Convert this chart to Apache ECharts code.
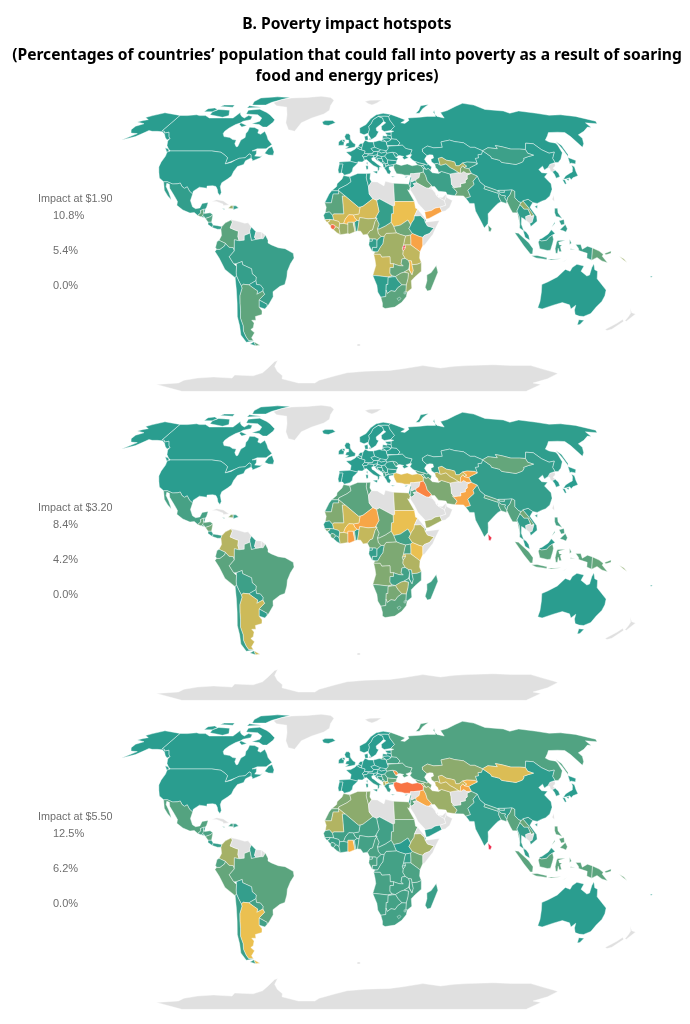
<!DOCTYPE html>
<html>
<head>
<meta charset="utf-8">
<title>Poverty impact hotspots</title>
<script src="https://cdn.jsdelivr.net/npm/echarts@6/dist/echarts.min.js"></script>
<style>
  html, body { margin: 0; padding: 0; background: #fff; }
  #main { width: 690px; height: 1024px; }
</style>
</head>
<body>
<div id="main"></div>
<script type="text/javascript">
// table rows are grouped by tens so the three value arrays line up with the names
var countries = [
  'Canada','United States','Mexico','Guatemala','Belize','Honduras','El Salvador','Nicaragua','Costa Rica','Panama',
  'Cuba','Haiti','Dominican Rep.','Jamaica','Colombia','Venezuela','Guyana','Suriname','French Guiana','Ecuador',
  'Peru','Brazil','Bolivia','Paraguay','Uruguay','Argentina','Chile','Greenland','Iceland','United Kingdom',
  'Ireland','France','Spain','Portugal','Belgium','Netherlands','Germany','Switzerland','Austria','Italy',
  'Denmark','Norway','Sweden','Finland','Poland','Czechia','Slovakia','Hungary','Slovenia','Croatia',
  'Bosnia','Serbia','Montenegro','Albania','N. Macedonia','Greece','Bulgaria','Romania','Moldova','Ukraine',
  'Belarus','Lithuania','Latvia','Estonia','Russia','Georgia','Armenia','Azerbaijan','Turkey','Cyprus',
  'Syria','Lebanon','Israel','Jordan','Iraq','Iran','Saudi Arabia','Yemen','Oman','UAE',
  'Qatar','Kuwait','Pakistan','Afghanistan','India','Nepal','Bhutan','Bangladesh','Sri Lanka','Myanmar',
  'Thailand','Laos','Cambodia','Vietnam','Malaysia','Indonesia','Philippines','Taiwan','Japan','North Korea',
  'South Korea','China','Mongolia','Kazakhstan','Uzbekistan','Turkmenistan','Tajikistan','Kyrgyzstan','Papua New Guinea','Solomon Is.',
  'Fiji','Australia','New Zealand','Antarctica','Morocco','W. Sahara','Algeria','Tunisia','Libya','Egypt',
  'Sudan','South Sudan','Eritrea','Ethiopia','Djibouti','Somalia','Kenya','Uganda','Tanzania','Rwanda',
  'Burundi','DR Congo','Congo','Gabon','Eq. Guinea','Cameroon','CAR','Chad','Niger','Mali',
  'Mauritania','Senegal','Guinea-Bissau','Guinea','Sierra Leone','Liberia','Ivory Coast','Burkina Faso','Ghana','Togo',
  'Benin','Nigeria','Angola','Zambia','Malawi','Mozambique','Zimbabwe','Namibia','Botswana','South Africa',
  'Lesotho','Eswatini','Madagascar'
];
var impact190 = [
  0,0,.2,1.5,.3,.7,.5,1,.2,.2,
  null,3,.2,.3,1.3,null,.1,null,null,.9,
  .3,.4,.3,.1,.1,1.4,.1,null,0,0,
  0,0,0,0,0,0,0,0,0,0,
  0,0,0,0,0,0,0,0,0,0,
  0,0,0,.1,.1,0,0,0,.1,0,
  0,0,0,0,0,.5,.3,.1,.9,0,
  null,0,0,.2,1.7,.5,null,7,null,null,
  null,null,1.7,null,.1,.5,.3,.6,1,1.2,
  .2,2.8,null,.1,0,.5,.2,null,0,null,
  0,0,.5,0,3.5,.5,2.2,.4,1.5,3,
  0,0,null,null,.1,0,0,.1,null,1,
  5.2,1.8,null,.2,.5,null,7,3.5,4,10.8,
  9.5,3.2,.2,.2,.2,2.8,3,.3,4.6,4.4,
  1.3,.3,4,4,9.2,3.5,3,5.8,3,3.5,
  .3,3.3,4.3,1.5,5.8,3,2,.1,.2,1.3,
  1,1,1.4
];
var impact320 = [
  0,0,.6,1.2,.4,1,.6,1.5,.2,.3,
  null,2,.2,.3,2.9,null,.2,null,null,.8,
  1,.9,.4,.2,.1,3.4,.3,null,0,0,
  0,0,0,0,0,0,0,0,0,0,
  0,0,0,0,0,0,0,0,0,0,
  .1,.1,.1,.4,.3,0,.1,.1,.5,.1,
  0,0,0,0,.1,1,1.2,.6,3.8,0,
  null,.2,0,.8,6.5,1.7,null,2.5,null,null,
  null,null,5.3,null,.3,1,.6,.8,8.2,.9,
  .2,1.5,null,.1,.05,1,.6,null,0,null,
  0,.2,1.2,.2,3.3,3,5.2,5.2,1.2,2,
  0,0,null,null,1,.5,1,1,null,2.6,
  4,.5,null,3,.8,null,4,.7,2.8,3.8,
  2,1.7,.3,.2,.2,1.5,1.5,1.3,5.3,3.4,
  1.8,.1,1.6,.2,1,.2,3,4.5,5.6,2.8,
  .2,3.2,1.8,.5,.2,.6,2.6,1,1.6,1,
  .8,.8,.5
];
var impact550 = [
  0,0,1.3,1,.3,1,.6,1.5,.2,.3,
  null,.8,.3,.3,3.8,null,.4,null,null,1.2,
  1.8,1.5,.3,.8,.7,6,.5,null,0,0,
  0,0,0,0,0,0,0,0,0,.1,
  0,0,0,0,.1,0,.1,.1,0,.1,
  .5,1,.5,4,5.5,.3,2,1,9,1.3,
  .8,.1,.1,.1,1.2,2,4,2.5,10.2,0,
  null,.5,0,1.5,7.8,3.5,null,.1,null,null,
  null,null,1.5,null,.2,.8,.6,1,12.5,1.5,
  .3,2,null,.3,.2,1.5,1.5,null,0,null,
  .1,.1,5.5,3,5,4.6,7.8,7.2,1.5,2,
  0,0,null,null,2.6,1.8,3,2.8,null,2.6,
  2,0,null,3.8,.8,null,2,.4,1,.6,
  .6,.8,.7,1,.8,1,.8,.7,.8,.7,
  4.2,.7,.5,.5,.7,.7,.5,.7,7.2,.7,
  .5,.8,.9,.8,.8,.9,.8,.8,.8,.8,
  .8,.8,.5
];
var legendTitles = ['Impact at $1.90', 'Impact at $3.20', 'Impact at $5.50'];
var legendMax = [10.8, 8.4, 12.5];
var legendTicks = [['10.8%','5.4%','0.0%'], ['8.4%','4.2%','0.0%'], ['12.5%','6.2%','0.0%']];
var scaleColors = ['#2a9d8f', '#90ac6c', '#f3c24e', '#fb8d40', '#ee2f50'];

// country outlines, lon,lat pairs (no world map ships with echarts any more)
var shapes = {
  'Canada': [[-141,69.6,-135,69.5,-128,70,-125,69.5,-120,69.5,-115,68,-108,68,-102,68,-96,68,-94,71.5,-92,70,-90,69,-87,68,-85,69.5,-81.5,69,-81,67,-86,66,-87,65,-90,64,-93,62,-94.5,60,-94.5,58.7,-92.5,57,-88,56.5,-85,55.3,-82.3,55,-82,53,-80,51.3,-79,51.5,-79,53,-79,55,-77,56.5,-78,58.7,-77.5,60,-78,62.4,-74,62.2,-70,61,-69.5,59,-67,58.3,-65,60,-62,57.5,-60,55.3,-56,52.5,-59,50.2,-65,50.2,-68,49,-65,49.2,-64.5,47.5,-65,46.2,-61,46,-60,46.7,-61,45.3,-65.5,43.6,-66,44.5,-67,45.2,-67.8,47,-69.2,47.4,-71,45.3,-74.7,45,-76.5,44.2,-79,43.3,-79,42.8,-82.5,42,-82.5,45.3,-84.5,46.5,-88.5,48.3,-95,49,-123,49,-125,50,-128,52,-130,54.5,-130,55.9,-132,57,-135,59.5,-137.5,59,-139,60,-141,60.3],
    [-80,73.7,-72,71.5,-68,70,-62,67,-62,65.5,-65,62.5,-68,62.5,-72,64,-78,64.5,-73,66,-73,68,-78,70,-88,70.5,-89,73],
    [-117,70,-105,68.5,-101,69.5,-105,73,-115,73.5,-118,72],
    [-90,76.5,-78,76.5,-75,78.5,-65,81.5,-62,82.5,-75,83,-90,82,-92,79],
    [-125,72,-118,72,-116,73.5,-120,74.5,-125,74],
    [-92,76,-80,75,-80,74.5,-92,74.5],
    [-117,75.5,-105,75,-106,76.5,-115,76.5],
    [-59,47.7,-56,46.8,-53,46.7,-53,48.5,-55.5,51.5,-57.5,50.5],
    [-128,50.7,-125,48.5,-123.5,48.5,-125,50],
    [-87,65,-81,63.5,-84,62.5,-87,64]],
  'United States': [[-123,49,-95,49,-88.5,48.3,-84.5,46.5,-82.5,45.3,-82.5,42,-79,42.8,-79,43.3,-76.5,44.2,-74.7,45,-71,45.3,-69.2,47.4,-67.8,47,-67,45.2,-70,43.7,-70.5,41.7,-74,40.6,-75.5,38,-76,35.5,-78,33.9,-81,32,-81.3,30,-80,26.8,-80.5,25.2,-82,26.5,-82.8,28.5,-84,30,-86,30.4,-89.5,30.2,-89.3,29.1,-94,29.6,-97.2,27.5,-97.2,26,-99.5,27.5,-101.5,29.8,-103,29,-104.8,30,-106.5,31.8,-108.2,31.4,-111,31.3,-114.8,32.5,-117.1,32.5,-120.6,34.5,-122.5,37.5,-124.2,40.4,-124.5,43,-124,46.2,-124.7,48.4],
    [-141,69.6,-148,70.4,-156.5,71.3,-163,69.5,-166.5,68.3,-162,67,-165,66.5,-168,65.6,-161,64.5,-165,63,-165,61,-162,59,-157,58.7,-163,55,-156,57,-153,59,-151,60.5,-148,60,-144,60,-140,59.7,-137,58.5,-134,56.5,-131,55,-130,55.9,-132,57,-135,59.5,-137.5,59,-139,60,-141,60.3]],
  'Mexico': [[-117.1,32.5,-114.8,32.5,-111,31.3,-108.2,31.4,-106.5,31.8,-104.8,30,-103,29,-101.5,29.8,-99.5,27.5,-97.2,26,-97.8,22.5,-96,19.2,-94,18.2,-91.5,18.6,-90.5,21,-87,21.5,-87.5,19,-88.2,17.9,-89.1,17.9,-91,17.2,-90.5,16,-92.2,14.6,-94.5,16.2,-97,15.9,-101.5,17.5,-105.5,20,-105.5,22,-108,25,-109.5,26.5,-112,29,-113,31.2,-114.8,31.7,-114.5,30,-112,27,-110,24,-109.5,23,-112,25,-115,28]],
  'Guatemala': [[-92.2,14.6,-90.5,16,-91,17.2,-89.1,17.9,-88.9,15.9,-88.2,15.7,-89.3,14.5,-90,13.8]],
  'Belize': [[-89.1,17.9,-88.2,17.9,-88.2,16.2,-88.9,15.9]],
  'Honduras': [[-88.9,15.9,-88.2,15.7,-85,16,-83.2,15,-84.7,13.9,-87.5,13,-89.3,14.5]],
  'El Salvador': [[-90,13.8,-89.3,14.5,-87.7,13.5,-88,13.2]],
  'Nicaragua': [[-87.5,13,-84.7,13.9,-83.2,15,-83.7,11,-85.7,11]],
  'Costa Rica': [[-85.7,11,-83.7,11,-82.6,9.5,-83,8.2,-85.7,9.8]],
  'Panama': [[-83,8.2,-82.6,9.5,-80,9.2,-77.4,8.7,-77.9,7.3,-80,7.3]],
  'Cuba': [[-85,22,-82,23,-78,22.3,-74.2,20.2,-77.7,19.9,-78,20.7,-82,22]],
  'Haiti': [[-74.5,18.4,-73,19.9,-71.7,19.7,-71.7,18.2]],
  'Dominican Rep.': [[-71.7,19.7,-70,19.7,-68.4,18.6,-71.4,17.7,-71.7,18.2]],
  'Jamaica': [[-78.3,18.3,-76.3,18,-77,17.8]],
  'Colombia': [[-77.4,8.7,-75.5,10.7,-72,12.3,-71.4,11,-72.5,8,-70,7,-67.5,6.2,-67.8,3.5,-67,1.2,-69.8,1.7,-69.9,-4.2,-70.5,-2.5,-73,-2.3,-75,-0.2,-78.8,1.4,-77.4,4,-77.9,7.3]],
  'Venezuela': [[-71.4,11,-72,12.3,-68,11.5,-64,10.5,-62,10.7,-60,8.5,-60.8,6.8,-60.7,5.2,-64,4,-64,1.5,-67,1.2,-67.8,3.5,-67.5,6.2,-70,7,-72.5,8]],
  'Guyana': [[-60,8.5,-57.2,6,-58,3,-57,1.9,-59.8,1.3,-60.7,5.2,-60.8,6.8]],
  'Suriname': [[-57.2,6,-54,5.9,-54,2.3,-57,1.9,-58,3]],
  'French Guiana': [[-54,5.9,-51.6,4.2,-52.9,2.2,-54,2.3]],
  'Ecuador': [[-80.9,-2.2,-80,0.8,-78.8,1.4,-75,-0.2,-75.5,-1.5,-78.3,-3.4,-80.3,-3.4]],
  'Peru': [[-81.3,-4.5,-80.3,-3.4,-78.3,-3.4,-75.5,-1.5,-75,-0.2,-73,-2.3,-70.5,-2.5,-69.9,-4.2,-73,-7.3,-70.6,-11,-69,-12.5,-69.4,-15.5,-69.5,-17.5,-70.4,-18.4,-76,-14,-79,-8]],
  'Brazil': [[-51.6,4.2,-50,1.5,-50,0,-48,-1,-44,-2.5,-40,-3,-35.2,-5.5,-34.8,-8,-37,-11,-39,-15,-39.5,-18,-41,-22,-44,-23,-48.5,-25.8,-48.7,-28.5,-52,-32.5,-53.4,-33.7,-53.2,-32.5,-57.6,-30.2,-53.8,-27.2,-54.6,-25.5,-54.3,-24,-55.7,-22.3,-58,-22,-58.2,-20,-57.8,-18,-60,-16.3,-60.2,-13.7,-65.3,-11.5,-65.5,-9.8,-69,-11,-70.6,-11,-73,-7.3,-69.9,-4.2,-69.8,1.7,-67,1.2,-64,1.5,-64,4,-60.7,5.2,-59.8,1.3,-57,1.9,-54,2.3,-52.9,2.2]],
  'Bolivia': [[-69,-11,-65.5,-9.8,-65.3,-11.5,-60.2,-13.7,-60,-16.3,-57.8,-18,-58.2,-20,-62.6,-22.2,-66,-21.9,-67.2,-22.8,-68.5,-20,-69.5,-17.5,-69.4,-15.5,-69,-12.5]],
  'Paraguay': [[-58.2,-20,-58,-22,-55.7,-22.3,-54.3,-24,-54.6,-25.5,-58.5,-27.2,-57.7,-25.5,-60,-24,-62.6,-22.2]],
  'Uruguay': [[-57.6,-30.2,-53.2,-32.5,-53.4,-33.7,-55,-35,-58.4,-34]],
  'Argentina': [[-66,-21.9,-62.6,-22.2,-60,-24,-57.7,-25.5,-58.5,-27.2,-54.6,-25.5,-53.8,-27.2,-57.6,-30.2,-58.4,-34,-57,-36,-57.6,-38,-62,-39,-62.3,-41,-65,-41,-64,-42.5,-65.5,-45,-67.5,-46,-65.8,-47.8,-69,-50.5,-68.5,-52.3,-71.9,-52,-72.5,-50,-72.8,-47,-71.7,-44,-71.8,-40,-70.5,-36,-69.8,-32,-69,-28,-67,-24,-67.2,-22.8],
    [-68.6,-52.7,-65.3,-54.7,-68.6,-54.9]],
  'Chile': [[-70.4,-18.4,-69.5,-17.5,-68.5,-20,-67.2,-22.8,-67,-24,-69,-28,-69.8,-32,-70.5,-36,-71.8,-40,-71.7,-44,-72.8,-47,-72.5,-50,-71.9,-52,-68.5,-52.3,-74,-53,-75.5,-49,-74,-44,-73.5,-39,-71.5,-32,-70.5,-25],
    [-68.6,-52.7,-68.6,-54.9,-72,-54]],
  'Greenland': [[-73,78.2,-68,80.5,-60,82,-45,82.5,-32,83.6,-22,82.5,-18,80,-20,76,-20,73,-24,70.5,-33,68,-40,65,-43,60,-48,61,-52,65,-54,70,-58,75,-68,76]],
  'Iceland': [[-24,65.5,-22,66.4,-16,66.5,-13.6,65,-18.8,63.4,-22.5,63.9]],
  'United Kingdom': [[-5.5,50,-1,50.7,1.4,51.2,1.7,52.7,0,53.5,-1.5,55,-2,56,-2,57.7,-3,58.6,-5,58.6,-6,57,-5,55.2,-3,54.9,-3,53.5,-4.5,53.3,-5.2,51.8,-3,51.4],
    [-7.4,55.2,-6,55.2,-5.5,54.3,-6.2,54,-7.5,54.3]],
  'Ireland': [[-10,52,-6.4,52.2,-6.2,54,-7.5,54.3,-7.4,55.2,-8.5,55,-10,54]],
  'France': [[-1.8,43.4,-1.2,46,-4.7,48.4,-1.5,48.7,1.5,50,2.5,51,4.2,50,5.8,49.6,8.2,49,7.6,47.6,6,46.3,6.9,45.8,7.5,44,6,43,3.2,43.2,3.1,42.4],
    [8.6,42.5,9.5,43,9.4,41.4]],
  'Spain': [[-9,43,-1.8,43.4,3.1,42.4,0,40,-0.5,38,-2,36.8,-5.5,36,-6.5,37.1,-7.4,37.2,-7,39.7,-6.5,41.9,-8.8,41.9]],
  'Portugal': [[-8.8,41.9,-6.5,41.9,-7,39.7,-7.4,37.2,-9,37,-9.5,38.8]],
  'Belgium': [[2.5,51,4.2,51.4,6,50.7,5.8,49.6,4.2,50]],
  'Netherlands': [[3.5,51.4,4.8,53,7,53.3,6,50.7,4.2,51.4]],
  'Germany': [[6,50.7,7,53.3,8.5,54.9,11,54,14.2,53.9,14.8,51,12.2,50.3,13.8,48.7,13,47.5,9.6,47.5,7.6,47.6,8.2,49,5.8,49.6]],
  'Switzerland': [[6,46.3,7.6,47.6,9.6,47.5,10.4,46.8,9,46,6.9,45.8]],
  'Austria': [[9.6,47.5,13,47.5,13.8,48.7,17,48.8,16.2,46.9,13.7,46.5,10.4,46.8]],
  'Italy': [[7.5,44,6.9,45.8,9,46,10.4,46.8,13.7,46.5,13.6,45.5,12.3,45.2,12.4,44,13.7,43.3,16,41.7,18.5,40.2,17,40.4,16.6,38.9,15.7,38,15.8,40,13,41.2,10.5,43,8.8,44.4],
    [12.5,38,15.6,38.2,15.1,36.7],[8.2,41,9.7,41,9.6,39.1,8.5,39]],
  'Denmark': [[8.2,57,10.6,57.7,10.7,55,8.6,54.9],[11,55.7,12.6,56,12.3,54.9]],
  'Norway': [[5,59,5,62,10,64,14,67.5,19,70,25,71,31,70.2,28.9,69,25.7,69.1,20.5,69,16,67,14,64.5,12,63,12.2,61,11.2,59,8,58]],
  'Svalbard': [[11,79,16,80,27,80.2,22,78,17,76.6,14,77.5]],
  'Sweden': [[11.2,59,12.2,61,12,63,14,64.5,16,67,20.5,69,23.7,68,24,66,21,64,17.4,62,17.4,60.5,18.8,59.7,16.5,57,14.5,56,13,55.4,11.2,58]],
  'Finland': [[20.5,69,25.7,69.1,28.9,69,29,66.8,31.5,62.9,27.8,60.5,23,59.9,21.3,61,21.5,63,25.4,65,24,66,23.7,68]],
  'Poland': [[14.2,53.9,18.5,54.8,23,54.4,23.5,52,24,50.5,22.6,49.1,19,49.4,18.8,49.6,14.8,51]],
  'Czechia': [[12.2,50.3,14.8,51,18.8,49.6,17,48.8,13.8,48.7]],
  'Slovakia': [[17,48.8,18.8,49.6,19,49.4,22.6,49.1,22,48.4,18.8,47.8]],
  'Hungary': [[16.2,46.9,17,48.8,18.8,47.8,22,48.4,22.9,47.9,21,46.2,18.8,45.9,16.5,46.5]],
  'Slovenia': [[13.7,46.5,16.2,46.9,16.5,46.5,15.2,45.4,13.6,45.5]],
  'Croatia': [[13.6,45.5,15.2,45.4,16.5,46.5,18.8,45.9,19,44.9,15.8,45,16.2,44,18.5,42.5,15.5,44,14.5,45.1]],
  'Bosnia': [[15.8,45,19,44.9,19.5,43.5,18.5,42.5,16.2,44]],
  'Serbia': [[18.8,45.9,21,46.2,22.5,44.2,22.4,42.3,20.7,42.1,20.1,42.6,19.5,43.5,19,44.9]],
  'Montenegro': [[18.5,42.5,19.5,43.5,20.1,42.6,19.3,41.9]],
  'Albania': [[19.3,41.9,20.1,42.6,20.7,42.1,21,40.6,20,39.7,19.4,40.5]],
  'N. Macedonia': [[20.7,42.1,22.4,42.3,23,41.3,21,40.9]],
  'Greece': [[20,39.7,21,40.6,23,41.3,26.3,41.7,26,40.8,23,40.3,23,39,24,38,23,36.5,21.7,36.9,21,38.4],[23.6,35.5,26.3,35.2,24.7,34.9]],
  'Bulgaria': [[22.4,42.3,22.5,44.2,28.5,43.7,27.8,42,26.3,41.7,23,41.3]],
  'Romania': [[21,46.2,22.9,47.9,26.6,48.3,28.2,45.5,29.6,45,28.5,43.7,22.5,44.2]],
  'Moldova': [[26.6,48.3,29,47.9,30,46.4,28.2,45.5]],
  'Ukraine': [[22,48.4,22.6,49.1,24,50.5,24,51.6,31,52,34,52.3,36,50.4,40,49.6,38.2,47.2,35,46.3,36.5,45.3,33.5,44.4,32.5,45.4,33.5,46,31,46.5,30,46.4,29,47.9,26.6,48.3,22.9,47.9]],
  'Belarus': [[23.5,52,24,51.6,31,52,32.7,53.4,30.8,55.5,27.5,55.8,26,54.8,23.4,54]],
  'Lithuania': [[21,56,25,56.3,26.6,55.7,26,54.8,23.4,54,21,55.3]],
  'Latvia': [[21,56,21.5,57.5,24.4,57.2,24.5,58,27.5,57.5,27.5,55.8,26.6,55.7,25,56.3]],
  'Estonia': [[23.5,59.2,28,59.5,27.5,57.5,24.5,58]],
  'Russia': [[27.8,60.5,30,60,28,59.5,27.5,57.5,27.5,55.8,30.8,55.5,32.7,53.4,31,52,34,52.3,36,50.4,40,49.6,38.2,47.2,39,47,37.5,45.4,39,44,40,43.4,43,42.5,46.5,41.8,47.5,41.3,48.5,41.8,47.5,43,46.8,44.5,49,46.5,46.8,48.5,47,50,51,51.7,55,50.7,61,51,61.5,54,68,55,71,54.2,77,53.5,80,51,83,51,87.3,49.1,92,50.8,98,50.2,98,52,102,51.3,107,50,113,50,116.7,49.8,120,53.3,125,53,127.5,49.7,131,47.8,135,48.4,131,45,131,42.8,133,42.8,136,44.5,140,48,141,52,141,53.3,137,54,135.5,55,140,57.5,143,59.3,150,59.5,155,59.3,156,57,156.7,51,160,53,163,56,163,58,170,60,177,62.5,179.5,62.3,180,65,188,64.5,190,66,180,69,170,70,160,69.7,152,71,140,72.5,130,71,127,72.5,113,73.5,108,76.5,100,77.8,90,75.5,80,72.8,73,71.5,73,68,68,69,67,71.5,69,73,66.8,69,60,69,54,68.5,44,68,44,66.5,40,64.7,37,65,40,66.2,41,67,35,69,31,70.2,28.9,69,29,66.8,31.5,62.9],
    [19.8,54.4,22.8,54.4,21,55.3],[52,71,56,73,60,76,68,77,60,74,55,71],[142,54.2,143.5,52,143,47,142,46,142,50]],
  'Georgia': [[40,43.4,43,42.5,46.5,41.8,45,41.2,43.5,41,41.5,41.5]],
  'Armenia': [[43.5,41,45,41.2,46.5,39,44.8,39.7]],
  'Azerbaijan': [[46.5,41.8,47.5,41.3,48.5,41.8,50.3,40.3,49,38.4,48,39.5,46.5,39,45,41.2]],
  'Turkey': [[26,40,26.3,41.7,28,42,31,41.2,35,42,38,41,41.5,41.5,43.5,41,44.8,39.7,44.5,37.7,42.3,37.2,38,36.8,36.2,36.8,36,36,32.5,36,30.5,36.5,27.5,36.8,26.5,38.5]],
  'Cyprus': [[32.3,35,34.5,35.6,33,34.6]],
  'Syria': [[36,36,36.2,36.8,38,36.8,42.3,37.2,41.2,34.7,38.8,33.4,36.5,32.4,35.8,33.3,36.5,34.6,35.9,35]],
  'Lebanon': [[35.1,33.1,35.8,33.3,36.5,34.6,35.9,35]],
  'Israel': [[34.3,31.3,35.1,33.1,35.8,33.3,35.5,31,34.9,29.5]],
  'Jordan': [[34.9,29.5,35.5,31,35.6,32.7,36.5,32.4,38.8,33.4,39.2,32,37,31.5,38,30.5,36,29.2]],
  'Iraq': [[38.8,33.4,41.2,34.7,42.3,37.2,44.5,37.7,45.5,35.8,46,33,47.8,31,48.5,30,47.7,30,46.5,29,44.7,29.2,39.2,32]],
  'Iran': [[44.8,39.7,46.5,39,48,39.5,49,38.4,50,37.3,54,36.9,54,37.4,56,38,61,36.6,61,34,60.6,31,62,29.5,60.9,29.8,63.3,27,61.7,25.1,57,25.7,56.5,27,52,27.5,50,30,48.5,30,47.8,31,46,33,45.5,35.8,44.5,37.7]],
  'Saudi Arabia': [[34.9,29.5,36,29.2,38,30.5,37,31.5,39.2,32,44.7,29.2,46.5,29,48.4,28.5,50,26.5,50.2,25.5,51.5,24.3,55,22.5,55.6,20,52,19,49,18.5,46.8,17.2,43.2,16.7,42.7,16.5,39,21,37,25,35,28]],
  'Yemen': [[42.7,16.5,43.2,16.7,46.8,17.2,49,18.5,52,19,53,16.7,45,13,43.4,12.7]],
  'Oman': [[52,19,55.6,20,55,22.5,56,24,56.4,26.2,56.8,24,59.8,22.5,57.8,19,55,17,53,16.7]],
  'UAE': [[51.5,24.3,55,22.5,56,24,56.4,26,54,24.2]],
  'Qatar': [[50.8,24.7,51.6,25,51.2,26.1,50.8,25.6]],
  'Kuwait': [[46.5,29,47.7,30,48.4,28.5]],
  'Pakistan': [[60.9,29.8,62,29.5,66,29.8,66.3,31.5,69.3,31.9,69.5,33.2,71,34,71.5,36,74.5,37,77.8,35.5,74.3,32.8,74.5,31,70,28,71,24.6,68,23.7,66.8,25,61.7,25.1,63.3,27]],
  'Afghanistan': [[61,34,61,36.6,64.5,37.2,65.5,37.3,68,37,70,38,71.5,37,74.5,37,71.5,36,71,34,69.5,33.2,69.3,31.9,66.3,31.5,66,29.8,62,29.5,60.6,31]],
  'India': [[74.3,32.8,77.8,35.5,78.5,32.5,81,30.2,80,28.8,88,26.4,88.2,27.8,89,27,92,26.9,92,28,97,28.3,95,25.5,93.3,24,92.5,22,91.5,24,92.2,25,89.8,25.3,88.5,26.3,88,24.5,89,21.9,87,21,85,19.5,80.3,15.5,80.2,13,79.8,10.3,77.5,8,76,11,73,17,72.7,21,70,21,69,22.4,68,23.7,71,24.6,70,28,74.5,31]],
  'Nepal': [[80,28.8,81,30.2,88.2,27.8,88,26.4]],
  'Bhutan': [[89,27,88.9,28,92,28,92,26.9]],
  'Bangladesh': [[88,24.5,88.5,26.3,89.8,25.3,92.2,25,91.5,24,92.5,22,92,21,89,21.9]],
  'Sri Lanka': [[79.8,9.6,81.9,7.5,81,6,80,6.2]],
  'Myanmar': [[92.5,22,93.3,24,95,25.5,97,28.3,98.5,27.5,97.7,24,99.5,22,101,21.5,100,20.3,97.7,17,98.7,14,98.6,10,97.8,16,95,16,94,18]],
  'Thailand': [[100,20.3,101,19.5,102,18,104.5,18,105.5,15,102.5,14,102.5,12,101,13,100,13.5,99.5,10,100.5,7,102,6,100.3,6.6,98.3,8,98.6,10,98.7,14,97.7,17]],
  'Laos': [[101,21.5,102.2,22.4,104.8,19,107.5,15,105.8,14,105.5,15,104.5,18,102,18,101,19.5,100,20.3]],
  'Cambodia': [[102.5,14,105.5,15,105.8,14,107.5,14.5,106,11,104.5,10.4,102.5,12]],
  'Vietnam': [[102.2,22.4,105.5,23.2,108,21.5,105.8,19,109,14,109,11.5,106.7,10,105,8.7,104.5,10.4,106,11,107.5,14.5,107.5,15,104.8,19]],
  'Malaysia': [[100.3,6.6,102,6,103.5,4,104,1.4,101.3,3],[109.7,2,111.3,2.5,115,4.8,117,7,119,5,117.5,4.2,115.5,3,114,1.5,111,1,109.7,1.5]],
  'Indonesia': [[95.3,5.5,97.5,5.2,103.5,0,106,-3,105.8,-5.8,104.5,-5.8,100.5,-1.5],
    [105.3,-6.8,108.5,-6.6,114.5,-7.8,114.3,-8.7,108,-7.9],
    [109,0.5,109.7,1.5,111,1,114,1.5,115.5,3,117.5,4.2,118,2,117.5,0,116.3,-3.8,114.5,-4,110,-3],
    [119.8,0.5,120.5,1.3,125,1.5,121,0.4,121.5,-1,123,-1,122,-2,122.8,-4.5,121.5,-4.7,120.8,-2.8,120.5,-5.5,119.5,-5.5,119,-3],
    [131,-0.8,134,-0.8,135,-3.3,138,-1.7,141,-2.6,141,-9.1,138,-8,138,-5.5,133,-4,132.7,-2.8],
    [123.5,-10.3,127,-8.4,125,-9.5],[115,-8.5,119,-8.5,123,-8.4,123,-8.8,117,-9],[127.5,2,128.5,0,127.5,-0.8],[128,-3,130.8,-3.3,128,-3.5]],
  'Philippines': [[120.5,18.5,122.2,18.4,122,16,124,13,122,13.8,120.5,14,120,16],[122,7,125.5,9.8,126.5,7.5,125.5,5.8,124,6.5],[122,11.8,125,12.5,125,10,123,9.5],[117.3,8.5,119.5,11.3,119.3,10.3]],
  'Taiwan': [[121.5,25.3,121,22,120,23.2]],
  'Japan': [[130.9,34,131,34.5,133,35.6,136.5,37,138.5,37.7,140,39.8,140.5,41.3,141.7,40.5,141,38,140.8,35.7,137,34.6,135.5,33.6,135,34.6,132.5,34],[130,33.5,131.5,33.5,131.5,31.5,130.5,31.2],[132.5,33.8,134.5,34.2,133.5,33],[140,42,141.5,45.5,145.3,43.8,143.5,42,141,42.5]],
  'North Korea': [[124.4,40,126.9,41.8,130.6,42.4,129.7,40.9,127.5,39.7,128.3,38.6,126,37.8,125,38,125.3,39.5]],
  'South Korea': [[126,37.8,128.3,38.6,129.4,37,129.2,35.2,126.5,34.4,126.5,36.5]],
  'China': [[74.5,37,73.7,39.5,76,40.5,80.2,42,80.3,45,82.5,45.3,83,47,85.5,47.2,87.3,49.1,91,46,91,45,95.5,44,96.5,42.8,105,41.7,110,43,111.7,44.3,112,45,116,46,119.8,46.7,116.7,47.8,116.7,49.8,120,53.3,125,53,127.5,49.7,131,47.8,135,48.4,131,45,131,42.8,130.6,42.4,126.9,41.8,124.4,40,121.5,38.8,121.5,40.8,118,39,119,37.3,122.5,37,119.5,35,122,31.5,121.5,28.5,119,25,116,22.9,113.5,22.2,110.5,21,108,21.5,105.5,23.2,102.2,22.4,101,21.5,99.5,22,97.7,24,98.5,27.5,97,28.3,92,28,88.9,28,88.2,27.8,81,30.2,78.5,32.5,77.8,35.5],[108.7,19.3,110.5,20,110,18.3]],
  'Mongolia': [[87.3,49.1,92,50.8,98,50.2,98,52,102,51.3,107,50,113,50,116.7,49.8,116.7,47.8,119.8,46.7,116,46,112,45,111.7,44.3,110,43,105,41.7,96.5,42.8,95.5,44,91,45,91,46]],
  'Kazakhstan': [[46.8,48.5,49,46.5,51,47,53,46.8,53,45.2,51,44.5,50.3,44.3,51,43,52.7,42,54.5,42.3,56,41.3,56,45,58.5,45.5,61,44,64,43.5,66,43,66,41,68,41,71,42.5,74,43,79,42.8,80.2,42,80.3,45,82.5,45.3,83,47,85.5,47.2,87.3,49.1,83,51,80,51,77,53.5,71,54.2,68,55,61.5,54,61,51,55,50.7,51,51.7,47,50]],
  'Uzbekistan': [[56,41.3,56,45,58.5,45.5,61,44,64,43.5,66,43,66,41,68,41,71,42.5,73,40.8,71,40,70.5,41,68.5,39.5,67.8,37.2,66.5,37.4,64,39,62,40,60,42,57,41.3]],
  'Turkmenistan': [[52.7,42,54.5,42.3,56,41.3,57,41.3,60,42,62,40,64,39,66.5,37.4,64.5,37.2,61,36.6,56,38,54,37.4,53.8,39,52.8,40]],
  'Tajikistan': [[67.8,37.2,68.5,39.5,70.5,41,71,40,73.7,39.5,74.5,37,71.5,37,70,38,68,37]],
  'Kyrgyzstan': [[71,42.5,74,43,79,42.8,80.2,42,76,40.5,73.7,39.5,71,40,73,40.8]],
  'Papua New Guinea': [[141,-2.6,145,-4.3,147.5,-6,147,-7,150.5,-10.5,147,-9.5,144,-7.7,141,-9.1],[148.3,-5.6,152,-4.2,152,-5.5,149,-6.3]],
  'Solomon Is.': [[157,-7,160,-8.5,162,-10.5,159,-8.5]],
  'Fiji': [[177.3,-17.5,178.7,-17.7,178,-18.3]],
  'Australia': [[113.5,-22,114.2,-26,115,-31,115,-34.3,118,-35,124,-33,129,-31.6,134,-32.8,136,-35,138,-33,138.5,-35.5,140.5,-38,143.5,-38.8,146.5,-39,150,-37.4,151.2,-34,153,-31,153.5,-28,153,-25,149.5,-22,146,-19,145.3,-15,143.5,-14.2,142.5,-11,141.6,-13,141,-17,139.5,-17.5,135.5,-15,136.8,-12.2,132.5,-11.3,130,-13,129,-15,126,-14,122,-18,117,-20.6],[144.7,-40.7,148.3,-41,147.5,-43.3,146,-43.5]],
  'New Zealand': [[172.7,-34.5,175.5,-37,178.5,-37.7,176,-41.5,174.8,-41.3,175,-39.5,174,-39,175,-37.3],[172.7,-40.5,174.3,-41.7,170.8,-45.9,168.4,-46.6,166.5,-46,171,-42.5]],
  'Antarctica': [[-176,-85,-183,-79,-160,-78,-150,-76,-135,-74.5,-120,-73.8,-105,-74.5,-100,-72.5,-85,-73,-75,-71,-68,-68,-60,-64,-57.5,-63.5,-62,-67,-62,-70,-60,-73,-62,-75,-50,-78,-35,-78,-30,-76,-15,-73,-5,-71,10,-70,30,-69.5,40,-68.5,55,-66.5,70,-68,80,-67,90,-66.5,110,-66,125,-66.5,140,-66.5,155,-69,165,-70.5,171,-71.5,170,-75,165,-78,175,-79,178,-85]],
  'Bouvet': [[3,-54,5,-54,5,-55,3,-55]],
  'Morocco': [[-5.9,35.8,-2,35.1,-1.2,32.5,-3.7,30.9,-8.7,28.7,-8.7,27.7,-13,27.7,-10,30,-9.8,31.5,-6.8,34]],
  'W. Sahara': [[-13,27.7,-8.7,27.7,-8.7,26,-12,26,-13,21.3,-17,21.3,-14.5,26]],
  'Algeria': [[-2,35.1,3,36.9,8.6,36.9,8.3,34.5,9.5,30,9.8,26,12,23.5,6,19.5,4.2,19,3.3,19,-4.8,25,-8.7,27.7,-8.7,28.7,-3.7,30.9,-1.2,32.5]],
  'Tunisia': [[8.6,36.9,11,37,10.5,34,11.5,32.5,9.5,30,8.3,34.5]],
  'Libya': [[11.5,32.5,15,32.4,19,30.3,20,32.7,25,31.7,25,20,24,19.5,16,23.4,14.2,22.6,12,23.5,9.8,26,9.5,30]],
  'Egypt': [[25,31.7,31,31.5,34.3,31.3,34.9,29.5,34.3,27.8,33.3,28.3,36.9,22,25,22]],
  'Sudan': [[25,22,36.9,22,37.4,18.5,38.6,18,36.5,14.3,36.2,12.6,34.5,10.5,34.1,9.5,32.5,12.2,28,9.5,24,8.7,23.3,10,22.5,11,22.9,15.5,24,15.7,24,19.5,25,20]],
  'South Sudan': [[24,8.7,28,9.5,32.5,12.2,34.1,9.5,33,7.7,35,5,33.9,4.2,31,3.7,28,4.5,25.5,5.4]],
  'Eritrea': [[36.5,14.3,38.6,18,43.1,12.7,42.4,12.5,40,14.5,37.5,14.3]],
  'Ethiopia': [[36.2,12.6,36.5,14.3,37.5,14.3,40,14.5,42.4,12.5,42.8,11,44,9,47.9,8,45,5,42,4,41,3,39,3.5,35,5,33,7.7,34.1,9.5,34.5,10.5]],
  'Djibouti': [[42.4,12.5,43.3,12.3,42.8,11]],
  'Somalia': [[42.8,11,43.3,11.5,51.2,12,49,8.3,47,4.5,42,-1.2,41,-1.5,41,3,42,4,45,5,47.9,8,44,9]],
  'Kenya': [[33.9,4.2,35,5,39,3.5,41,3,41,-1.5,39.5,-4.7,37.7,-3.5,34,-1,34,1.2]],
  'Uganda': [[31,3.7,33.9,4.2,34,1.2,34,-1,30.5,-1,29.6,-1.4,30.5,2.4]],
  'Tanzania': [[30.5,-1,34,-1,37.7,-3.5,39.5,-4.7,39.3,-8,40.4,-10.4,38,-11.3,34.9,-11.5,34.5,-9.5,32.9,-9.4,30.8,-8.2,29.3,-6,29.5,-4.3,30.5,-3,30.8,-2.4]],
  'Rwanda': [[29,-2.8,29.6,-1.4,30.5,-1,30.8,-2.4]],
  'Burundi': [[29,-2.8,30.8,-2.4,30.5,-3,29.5,-4.3]],
  'DR Congo': [[12.2,-6,13,-4.7,14.5,-4.7,16.2,-2,17.5,-0.5,18.3,3.5,19.5,5.1,25.5,5.4,28,4.5,31,3.7,30.5,2.4,29.6,-1.4,29,-2.8,29.5,-4.3,29.3,-6,30.8,-8.2,28.9,-8.5,28.5,-11,29.8,-12.2,27.2,-12,25.5,-11.5,24,-11,22,-11,21.8,-7.3,17,-7.5,16,-6]],
  'Congo': [[11.2,-4.2,13,-4.7,14.5,-4.7,16.2,-2,17.5,-0.5,18.3,3.5,16.5,3.5,14,1.4,14,-2.3,11.5,-2.3]],
  'Gabon': [[9.3,-1,9.6,1,11.3,1,11.3,2.2,13.3,2.2,14,1.4,14,-2.3,11.5,-2.3,11.2,-4.2]],
  'Eq. Guinea': [[9.6,1,11.3,1,11.3,2.2,9.8,2.2]],
  'Cameroon': [[8.5,4.7,9.8,2.2,11.3,2.2,13.3,2.2,14,1.4,16.5,3.5,15,5,14.5,7.5,15.5,10,14.2,12.4,14.2,13,13,11.5,11.5,7,10,6.5]],
  'CAR': [[15,5,16.5,3.5,18.3,3.5,19.5,5.1,25.5,5.4,24,8.7,23.3,10,22.5,11,19,9,15.5,7.5,14.5,7.5]],
  'Chad': [[14.2,12.4,15.5,10,14.5,7.5,15.5,7.5,19,9,22.5,11,22.9,15.5,24,15.7,24,19.5,16,23.4,14.2,22.6,15.5,16.8,13.6,13.8,14.2,13]],
  'Niger': [[0.2,14.9,3.5,15.4,4.2,19,6,19.5,12,23.5,14.2,22.6,15.5,16.8,13.6,13.8,13,13.1,9,12.8,4,13.5,3.6,11.7,2.4,12,1,13.3]],
  'Mali': [[-12.2,14.7,-11.5,15.5,-5.5,15.5,-6.5,25,-4.8,25,3.3,19,4.2,19,3.5,15.4,0.2,14.9,-2.5,15,-4.5,12.8,-5.5,10.4,-7.9,10.2,-8.4,11.4,-11.5,12.2]],
  'Mauritania': [[-17,21.3,-13,21.3,-12,26,-8.7,26,-8.7,27.7,-4.8,25,-6.5,25,-5.5,15.5,-11.5,15.5,-12.2,14.7,-14,16.5,-16.5,16.1,-16,19]],
  'Senegal': [[-16.5,16.1,-14,16.5,-12.2,14.7,-11.5,12.2,-13.7,12.5,-16.7,12.4,-17.5,14.7]],
  'Guinea-Bissau': [[-16.7,12.4,-13.7,12.5,-13.7,11.7,-15.5,11]],
  'Guinea': [[-13.7,12.5,-11.5,12.2,-8.4,11.4,-7.9,10.2,-8.2,7.6,-9.5,8.5,-10.5,8.3,-10.7,9.3,-12.5,9.9,-13.3,9,-15,10.8,-13.7,11.7]],
  'Sierra Leone': [[-13.3,9,-12.5,9.9,-10.7,9.3,-10.5,8.3,-11.5,7,-13,7.8]],
  'Liberia': [[-11.5,7,-10.5,8.3,-9.5,8.5,-8.2,7.6,-7.5,4.4,-9.5,5.5]],
  'Ivory Coast': [[-8.2,7.6,-7.9,10.2,-5.5,10.4,-3,10,-3,5,-7.5,4.4]],
  'Burkina Faso': [[-5.5,10.4,-4.5,12.8,-2.5,15,0.2,14.9,1,13.3,2.4,12,0.9,11,0,11,-3,11,-3,10]],
  'Ghana': [[-3,11,0,11,0.5,10.5,1.1,6,-2,4.8,-3,5]],
  'Togo': [[0,11,0.9,11,1.7,6.2,1.1,6,0.5,10.5]],
  'Benin': [[0.9,11,2.4,12,3.6,11.7,2.7,6.4,1.7,6.2]],
  'Nigeria': [[2.7,6.4,3.6,11.7,4,13.5,9,12.8,13,13.1,14.2,13,13,11.5,11.5,7,10,6.5,8.5,4.7,6,4.3,4.5,6.3]],
  'Angola': [[12.2,-6,16,-6,17,-7.5,21.8,-7.3,22,-11,24,-11,24,-13,22,-13,22,-16,23.4,-17.5,20.8,-18,13.5,-17.3,11.8,-17.3,13.5,-12,13,-9]],
  'Zambia': [[22,-13,24,-13,24,-11,25.5,-11.5,27.2,-12,29.8,-12.2,28.5,-11,28.9,-8.5,30.8,-8.2,32.9,-9.4,33.5,-11,33,-14,30.3,-15.5,28.5,-16,25.3,-17.8,23.4,-17.5,22,-16]],
  'Malawi': [[32.9,-9.4,34.5,-9.5,34.9,-11.5,35.8,-14.5,35.2,-17,33.5,-14.3,33,-14,33.5,-11]],
  'Mozambique': [[34.9,-11.5,38,-11.3,40.4,-10.4,40.6,-15,36.9,-18,34.9,-20,35.5,-24,32.9,-26,32,-26,32,-22.3,32.8,-19,33,-16,30.3,-15.5,33,-14,33.5,-14.3,35.2,-17,35.8,-14.5]],
  'Zimbabwe': [[25.3,-17.8,28.5,-16,30.3,-15.5,33,-16,32.8,-19,32,-22.3,29.4,-22.2,27,-20]],
  'Namibia': [[11.8,-17.3,13.5,-17.3,20.8,-18,23.4,-17.5,25.3,-17.8,23.3,-18,21,-18.3,21,-22,20,-22,20,-28.4,17,-28.8,15,-26,14.4,-22.5]],
  'Botswana': [[21,-18.3,23.3,-18,25.3,-17.8,27,-20,29.4,-22.2,27,-23.7,25.5,-25.7,23,-25.3,20.8,-26.8,20,-25,20,-22,21,-22]],
  'South Africa': [[17,-28.8,20,-28.4,20,-25,20.8,-26.8,23,-25.3,25.5,-25.7,27,-23.7,29.4,-22.2,32,-22.3,32,-26,32.9,-26,32.5,-28.5,30,-31.5,26,-34,20,-34.8,18.3,-34,18.2,-32]],
  'Lesotho': [[27,-29.5,28.5,-28.7,29.4,-29.5,28,-30.6]],
  'Eswatini': [[31,-25.9,32,-26,32,-27,31,-27]],
  'Madagascar': [[49.3,-12,50.5,-15.5,47,-25,45,-25.5,43.5,-23.5,44.3,-20,44,-17,46.5,-15.7]]
};

// robinson tables, every 5 degrees from the equator
var PLEN = [1,.9986,.9954,.99,.9822,.973,.96,.9427,.9216,.8962,.8679,.835,.7986,.7597,.7186,.6732,.6213,.5722,.5322];
var PDFE = [0,.062,.124,.186,.248,.31,.372,.434,.4958,.5571,.6176,.6769,.7346,.7903,.8435,.8936,.9394,.9761,1];
var xScale = 1.7, yScale = 152, centerX = 353, equatorY = 243, mapStep = 309;

function lookup(table, lat) {
    var a = Math.min(Math.abs(lat), 89.99) / 5;
    var i = Math.floor(a);
    return table[i] + (table[i + 1] - table[i]) * (a - i);
}
var robinson = {
    project: function (p) {
        var y = lookup(PDFE, p[1]) * yScale;
        return [centerX + xScale * lookup(PLEN, p[1]) * p[0], equatorY + (p[1] >= 0 ? -y : y)];
    },
    unproject: function (p) {
        var lat = (equatorY - p[1]) / yScale * 90;
        return [(p[0] - centerX) / (xScale * lookup(PLEN, lat)), lat];
    }
};

var features = [];
var minX = 1e9, maxX = -1e9, minY = 1e9, maxY = -1e9;
Object.keys(shapes).forEach(function (name) {
    var polys = shapes[name].map(function (flat) {
        var ring = [];
        for (var i = 0; i < flat.length; i += 2) {
            ring.push([flat[i], flat[i + 1]]);
            var q = robinson.project([flat[i], flat[i + 1]]);
            minX = Math.min(minX, q[0]); maxX = Math.max(maxX, q[0]);
            minY = Math.min(minY, q[1]); maxY = Math.max(maxY, q[1]);
        }
        ring.push(ring[0]);
        return [ring];
    });
    features.push({
        type: 'Feature',
        properties: { name: name },
        geometry: { type: 'MultiPolygon', coordinates: polys }
    });
});
var geoJson = { type: 'FeatureCollection', features: features };

function rows(values) {
    var out = [];
    countries.forEach(function (c, i) {
        if (values[i] !== null) out.push({ name: c, value: values[i] });
    });
    return out;
}

var allValues = [impact190, impact320, impact550];
var series = [], visualMaps = [], graphics = [];
allValues.forEach(function (vals, i) {
    var dy = i * mapStep;
    // series sharing a map name get merged into one drawing, so each panel has its own name
    echarts.registerMap('world' + i, geoJson);
    series.push({
        type: 'map',
        map: 'world' + i,
        projection: robinson,
        left: minX,
        top: minY + dy,
        width: maxX - minX,
        height: maxY - minY,
        roam: false,
        silent: true,
        selectedMode: false,
        label: { show: false },
        itemStyle: { areaColor: '#e0e0e0', borderColor: 'rgba(255,255,255,0.7)', borderWidth: 0.6 },
        data: rows(vals)
    });
    visualMaps.push({
        type: 'continuous',
        show: false,
        seriesIndex: i,
        min: 0,
        max: legendMax[i],
        inRange: { color: scaleColors }
    });
    graphics.push({
        type: 'text', left: 38, top: 194 + dy,
        style: { text: legendTitles[i], fill: '#6e6e6e', font: '10.8px "Liberation Sans"' }
    });
    legendTicks[i].forEach(function (t, k) {
        graphics.push({
            type: 'text', left: 53, top: [210, 245, 280][k] + dy,
            style: { text: t, fill: '#6e6e6e', font: '11px "Liberation Sans"' }
        });
    });
});

var myChart = echarts.init(document.getElementById('main'), null, { renderer: 'canvas' });
var titleFont = { fontFamily: '"Noto Sans"', fontWeight: 'bold', fontSize: 15.6, color: '#000' };
myChart.setOption({
    animation: false,
    backgroundColor: '#fff',
    title: [
        { text: 'B. Poverty impact hotspots', left: 342, top: 12, textAlign: 'center', textStyle: titleFont },
        { text: '(Percentages of countries\u2019 population that could fall into poverty as a result of soaring\nfood and energy prices)',
          left: 342, top: 40, textAlign: 'center', textStyle: Object.assign({ lineHeight: 21, align: 'center' }, titleFont) }
    ],
    visualMap: visualMaps,
    series: series,
    graphic: graphics
});
</script>
</body>
</html>
